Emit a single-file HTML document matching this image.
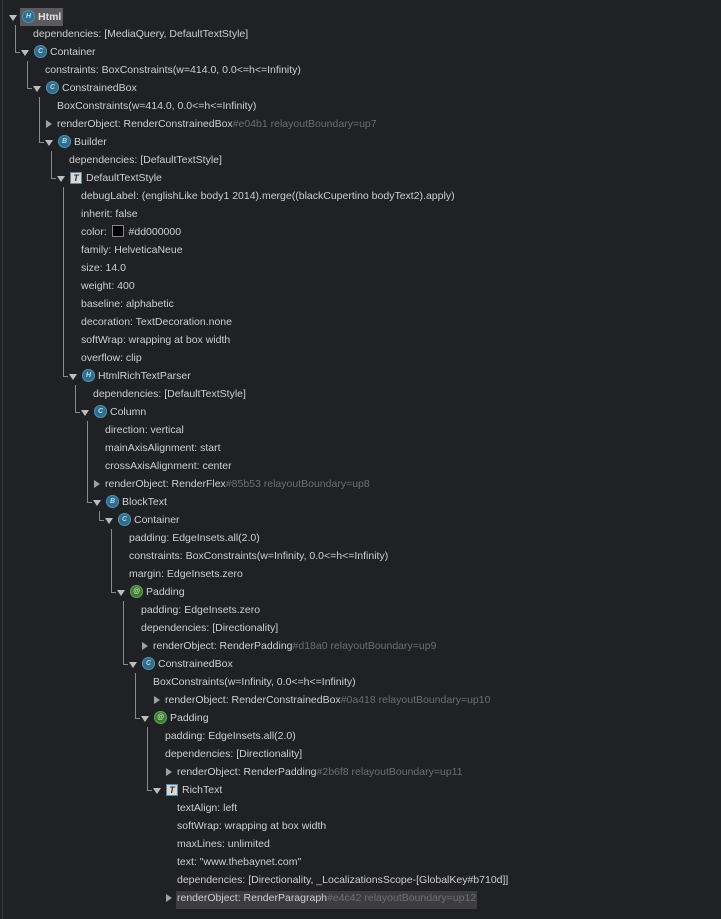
<!DOCTYPE html>
<html><head><meta charset="utf-8"><style>
html,body{margin:0;padding:0;background:#202124;width:721px;height:919px;overflow:hidden}
body{position:relative;font-family:"Liberation Sans",Arial,sans-serif;font-size:10.5px;color:#cfcfcf}
.r{position:absolute;height:18px;line-height:18px;white-space:nowrap}
.t{position:absolute;top:0}
.dn{position:absolute;top:7px;width:0;height:0;border-left:4px solid transparent;border-right:4px solid transparent;border-top:6px solid #bdbdbd}
.rt{position:absolute;top:5px;width:0;height:0;border-top:4px solid transparent;border-bottom:4px solid transparent;border-left:6px solid #a0a0a0}
.ic{position:absolute;top:2px;width:13px;height:13px;border-radius:50%;background:#2f6d8c;box-shadow:0 0 0 1px #4d8fb0 inset;color:#b8dcea;font-size:7px;font-weight:bold;line-height:13px;text-align:center}
.g{background:#3f7a34;box-shadow:0 0 0 1px #62a050 inset;color:#c8e8b8}
.sq{position:absolute;top:3px;background:#d8d8d8;border:1px solid #5a87a8;box-sizing:border-box;color:#333;font-size:9px;font-weight:bold;line-height:10px;text-align:center;width:12px;height:12px}
.h{color:#6f6f6f}
.v{position:absolute;width:1px;background:#8a8a8a}
.hz{position:absolute;height:1px;width:5px;background:#8a8a8a}
</style></head><body>
<div style="position:absolute;left:2px;top:0;width:1px;height:919px;background:#3a3a3c"></div>
<div style="position:absolute;left:20px;top:8px;width:43px;height:18px;background:#5b5b5d"></div>
<div style="position:absolute;left:176px;top:891px;width:301px;height:18px;background:#3d3d40"></div>

<div class="v" style="left:15px;top:25px;height:28px"></div><div class="hz" style="left:15px;top:52px"></div>
<div class="v" style="left:27px;top:61px;height:28px"></div><div class="hz" style="left:27px;top:88px"></div>
<div class="v" style="left:39px;top:97px;height:46px"></div><div class="hz" style="left:39px;top:142px"></div>
<div class="v" style="left:51px;top:151px;height:28px"></div><div class="hz" style="left:51px;top:178px"></div>
<div class="v" style="left:63px;top:187px;height:190px"></div><div class="hz" style="left:63px;top:376px"></div>
<div class="v" style="left:75px;top:385px;height:28px"></div><div class="hz" style="left:75px;top:412px"></div>
<div class="v" style="left:87px;top:421px;height:82px"></div><div class="hz" style="left:87px;top:502px"></div>
<div class="v" style="left:99px;top:511px;height:10px"></div><div class="hz" style="left:99px;top:520px"></div>
<div class="v" style="left:111px;top:529px;height:64px"></div><div class="hz" style="left:111px;top:592px"></div>
<div class="v" style="left:123px;top:601px;height:64px"></div><div class="hz" style="left:123px;top:664px"></div>
<div class="v" style="left:135px;top:673px;height:46px"></div><div class="hz" style="left:135px;top:718px"></div>
<div class="v" style="left:147px;top:727px;height:64px"></div><div class="hz" style="left:147px;top:790px"></div>

<div class="r" style="left:0;top:8px"><i class="dn" style="left:9px"></i><i class="ic" style="left:22px">H</i><b class="t" style="left:38px;color:#e0e0e0">Html</b></div>
<div class="r" style="left:33px;top:25px">dependencies: [MediaQuery, DefaultTextStyle]</div>
<div class="r" style="left:12px;top:43px"><i class="dn" style="left:9px"></i><i class="ic" style="left:22px">C</i><span class="t" style="left:38px">Container</span></div>
<div class="r" style="left:45px;top:61px">constraints: BoxConstraints(w=414.0, 0.0&lt;=h&lt;=Infinity)</div>
<div class="r" style="left:24px;top:79px"><i class="dn" style="left:9px"></i><i class="ic" style="left:22px">C</i><span class="t" style="left:38px">ConstrainedBox</span></div>
<div class="r" style="left:57px;top:97px">BoxConstraints(w=414.0, 0.0&lt;=h&lt;=Infinity)</div>
<div class="r" style="left:24px;top:115px"><i class="rt" style="left:22px"></i><span class="t" style="left:33px">renderObject: RenderConstrainedBox<span class="h">#e04b1 relayoutBoundary=up7</span></span></div>
<div class="r" style="left:36px;top:133px"><i class="dn" style="left:9px"></i><i class="ic" style="left:22px">B</i><span class="t" style="left:38px">Builder</span></div>
<div class="r" style="left:69px;top:151px">dependencies: [DefaultTextStyle]</div>
<div class="r" style="left:48px;top:169px"><i class="dn" style="left:9px"></i><i class="sq" style="left:22px">T</i><span class="t" style="left:38px">DefaultTextStyle</span></div>
<div class="r" style="left:81px;top:187px">debugLabel: (englishLike body1 2014).merge((blackCupertino bodyText2).apply)</div>
<div class="r" style="left:81px;top:205px">inherit: false</div>
<div class="r" style="left:81px;top:223px">color: <span style="display:inline-block;width:10px;height:10px;background:#000;border:1px solid #888;vertical-align:-2px;margin:0 2px"></span> #dd000000</div>
<div class="r" style="left:81px;top:241px">family: HelveticaNeue</div>
<div class="r" style="left:81px;top:259px">size: 14.0</div>
<div class="r" style="left:81px;top:277px">weight: 400</div>
<div class="r" style="left:81px;top:295px">baseline: alphabetic</div>
<div class="r" style="left:81px;top:313px">decoration: TextDecoration.none</div>
<div class="r" style="left:81px;top:331px">softWrap: wrapping at box width</div>
<div class="r" style="left:81px;top:349px">overflow: clip</div>
<div class="r" style="left:60px;top:367px"><i class="dn" style="left:9px"></i><i class="ic" style="left:22px">H</i><span class="t" style="left:38px">HtmlRichTextParser</span></div>
<div class="r" style="left:93px;top:385px">dependencies: [DefaultTextStyle]</div>
<div class="r" style="left:72px;top:403px"><i class="dn" style="left:9px"></i><i class="ic" style="left:22px">C</i><span class="t" style="left:38px">Column</span></div>
<div class="r" style="left:105px;top:421px">direction: vertical</div>
<div class="r" style="left:105px;top:439px">mainAxisAlignment: start</div>
<div class="r" style="left:105px;top:457px">crossAxisAlignment: center</div>
<div class="r" style="left:72px;top:475px"><i class="rt" style="left:22px"></i><span class="t" style="left:33px">renderObject: RenderFlex<span class="h">#85b53 relayoutBoundary=up8</span></span></div>
<div class="r" style="left:84px;top:493px"><i class="dn" style="left:9px"></i><i class="ic" style="left:22px">B</i><span class="t" style="left:38px">BlockText</span></div>
<div class="r" style="left:96px;top:511px"><i class="dn" style="left:9px"></i><i class="ic" style="left:22px">C</i><span class="t" style="left:38px">Container</span></div>
<div class="r" style="left:129px;top:529px">padding: EdgeInsets.all(2.0)</div>
<div class="r" style="left:129px;top:547px">constraints: BoxConstraints(w=Infinity, 0.0&lt;=h&lt;=Infinity)</div>
<div class="r" style="left:129px;top:565px">margin: EdgeInsets.zero</div>
<div class="r" style="left:108px;top:583px"><i class="dn" style="left:9px"></i><i class="ic g" style="left:22px">@</i><span class="t" style="left:38px">Padding</span></div>
<div class="r" style="left:141px;top:601px">padding: EdgeInsets.zero</div>
<div class="r" style="left:141px;top:619px">dependencies: [Directionality]</div>
<div class="r" style="left:120px;top:637px"><i class="rt" style="left:22px"></i><span class="t" style="left:33px">renderObject: RenderPadding<span class="h">#d18a0 relayoutBoundary=up9</span></span></div>
<div class="r" style="left:120px;top:655px"><i class="dn" style="left:9px"></i><i class="ic" style="left:22px">C</i><span class="t" style="left:38px">ConstrainedBox</span></div>
<div class="r" style="left:153px;top:673px">BoxConstraints(w=Infinity, 0.0&lt;=h&lt;=Infinity)</div>
<div class="r" style="left:132px;top:691px"><i class="rt" style="left:22px"></i><span class="t" style="left:33px">renderObject: RenderConstrainedBox<span class="h">#0a418 relayoutBoundary=up10</span></span></div>
<div class="r" style="left:132px;top:709px"><i class="dn" style="left:9px"></i><i class="ic g" style="left:22px">@</i><span class="t" style="left:38px">Padding</span></div>
<div class="r" style="left:165px;top:727px">padding: EdgeInsets.all(2.0)</div>
<div class="r" style="left:165px;top:745px">dependencies: [Directionality]</div>
<div class="r" style="left:144px;top:763px"><i class="rt" style="left:22px"></i><span class="t" style="left:33px">renderObject: RenderPadding<span class="h">#2b6f8 relayoutBoundary=up11</span></span></div>
<div class="r" style="left:144px;top:781px"><i class="dn" style="left:9px"></i><i class="sq" style="left:22px">T</i><span class="t" style="left:38px">RichText</span></div>
<div class="r" style="left:177px;top:799px">textAlign: left</div>
<div class="r" style="left:177px;top:817px">softWrap: wrapping at box width</div>
<div class="r" style="left:177px;top:835px">maxLines: unlimited</div>
<div class="r" style="left:177px;top:853px">text: "www.thebaynet.com"</div>
<div class="r" style="left:177px;top:871px">dependencies: [Directionality, _LocalizationsScope-[GlobalKey#b710d]]</div>
<div class="r" style="left:144px;top:889px"><i class="rt" style="left:22px"></i><span class="t" style="left:33px">renderObject: RenderParagraph<span class="h">#e4c42 relayoutBoundary=up12</span></span></div>
</body></html>
